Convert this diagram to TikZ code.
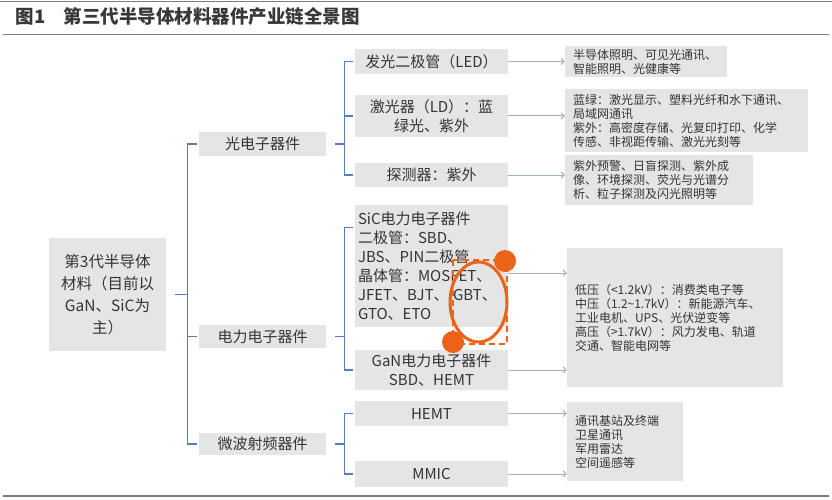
\documentclass[tikz,border=0pt]{standalone}
\usepackage{fontspec}
\setmainfont{Noto Sans CJK SC}
\usetikzlibrary{arrows.meta,positioning,calc}
\definecolor{boxcol}{RGB}{229,229,229}
\definecolor{txtcol}{RGB}{52,52,52}
\definecolor{linkcol}{RGB}{86,124,192}
\definecolor{arrcol}{RGB}{158,176,204}
\definecolor{markcol}{RGB}{236,98,24}
\definecolor{rulecol}{RGB}{125,125,125}
\tikzset{
  box/.style     = {rectangle, fill=boxcol, text=txtcol, align=center,
                    inner sep=2pt, minimum width=#1,
                    font=\fontsize{15}{19}\selectfont},
  note/.style 2 args = {rectangle, fill=boxcol, text=txtcol, align=left,
                    inner xsep=8pt, inner ysep=2pt, text width=#1,
                    minimum height=#2, font=\fontsize{12}{14}\selectfont},
  link/.style    = {draw=linkcol, line width=1.3pt},
  arr/.style     = {-{Straight Barb[length=3pt,width=6pt]}, draw=arrcol,
                    line width=1pt},
  markpen/.style = {draw=markcol, line width=#1},
}

\begin{document}
\begin{tikzpicture}[x=1pt, y=-1pt]
  \useasboundingbox (0,0) rectangle (832,500);

  % heading and rules
  \draw[rulecol, line width=1.5pt] (0,1.5) -- (832,1.5);
  \node[anchor=west, text=black!78, font=\fontsize{18.5}{20}\selectfont\bfseries]
       (title) at (12,17) {图1\quad 第三代半导体材料器件产业链全景图};
  \draw[rulecol, line width=0.8pt] (3,34) -- (829,34);
  \draw[rulecol, line width=2pt] (3,496) -- (829,496);

  % root and first level
  \node[box=117pt, minimum height=113pt, font=\fontsize{15.5}{22}\selectfont]
       (root) at (107.5,294.5) {第3代半导体\\材料（目前以\\GaN、SiC为\\主）};
  \node[box=127pt, minimum height=24pt] (opto)  at (262.5,144)   {光电子器件};
  \node[box=127pt, minimum height=23pt] (power) at (262.5,336.5) {电力电子器件};
  \node[box=127pt, minimum height=22pt] (rf)    at (262.5,444)   {微波射频器件};

  % device boxes
  \node[box=153pt, minimum height=25pt] (led) at (431.5,61.5) {发光二极管（LED）};
  \node[box=153pt, minimum height=42pt] (ld)  at (431.5,116)  {激光器（LD）：蓝\\绿光、紫外};
  \node[box=153pt, minimum height=24pt] (det) at (431.5,175)  {探测器：紫外};
  \node[box=153pt, minimum height=122pt, align=left, text width=147pt]
       (sic) at (431.5,266)
       {SiC电力电子器件\\二极管：SBD、\\JBS、PIN二极管\\晶体管：MOSFET、\\JFET、BJT、IGBT、\\GTO、ETO};
  \node[box=153pt, minimum height=40pt] (gan)  at (431.5,370) {GaN电力电子器件\\SBD、HEMT};
  \node[box=153pt, minimum height=25pt] (hemt) at (431.5,413.5) {HEMT};
  \node[box=153pt, minimum height=26pt] (mmic) at (431.5,474)   {MMIC};

  % applications
  \node[note={146pt}{31pt}] (ledapp) at (646,61.5)
       {半导体照明、可见光通讯、\\智能照明、光健康等};
  \node[note={227pt}{63pt}] (ldapp) at (686.5,120.5)
       {蓝绿：激光显示、塑料光纤和水下通讯、\\局域网通讯\\紫外：高密度存储、光复印打印、化学\\传感、非视距传输、激光光刻等};
  \node[note={172pt}{50pt}] (detapp) at (659,180)
       {紫外预警、日盲探测、紫外成\\像、环境探测、荧光与光谱分\\析、粒子探测及闪光照明等};
  \node[note={200pt}{139pt}] (powapp) at (675,317.5)
       {低压（<1.2kV）：消费类电子等\\中压（1.2\textasciitilde1.7kV）：新能源汽车、\\工业电机、UPS、光伏逆变等\\高压（>1.7kV）：风力发电、轨道\\交通、智能电网等};
  \node[note={100pt}{79pt}] (rfapp) at (625,441.5)
       {通讯基站及终端\\卫星通讯\\军用雷达\\空间遥感等};

  % brackets
  \foreach \c in {opto, power, rf}
    \draw[link, shorten <=9pt, shorten >=2pt] (root.east) -- ++(21,0) |- (\c.west);
  \foreach \c in {led, ld, det}
    \draw[link, shorten <=9pt, shorten >=2pt] (opto.east) -- ++(18,0) |- (\c.west);
  \draw[link, shorten <=9pt, shorten >=2pt] (power.east) -- ++(18,0) |- ([yshift=-23pt]sic.north west);
  \draw[link, shorten <=9pt, shorten >=2pt] (power.east) -- ++(18,0) |- (gan.west);
  \foreach \c in {hemt, mmic}
    \draw[link, shorten <=9pt, shorten >=2pt] (rf.east) -- ++(18,0) |- (\c.west);

  % arrows to applications
  \foreach \a/\b in {led/ledapp, ld/ldapp, det/detapp, gan/powapp, hemt/rfapp, mmic/rfapp}
    \draw[arr] (\a.east) -- (\a.east -| \b.west);
  \draw[arr] ([yshift=-7pt]sic.east) -- ([yshift=-7pt]sic.east -| powapp.west);

  % hand marking over IGBT
  \draw[markpen=1.6pt, dash pattern=on 6pt off 4pt] (453,260) rectangle (507,344);
  \draw[markpen=3pt] (478.5,302) ellipse [x radius=28.5pt, y radius=40pt];
  \fill[markcol] (505,261) circle [radius=11pt];
  \fill[markcol] (453,342) circle [radius=11pt];
\end{tikzpicture}
\end{document}
